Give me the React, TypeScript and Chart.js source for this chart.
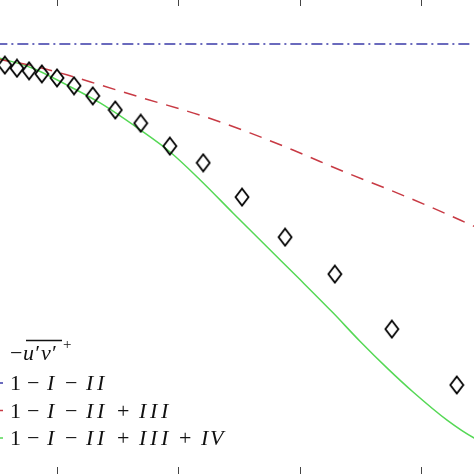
import React, { useEffect, useRef } from "react";
import { Chart, registerables } from "chart.js";

Chart.register(...registerables);

// x positions (arbitrary axis units; ticks at 0.2, 0.4, 0.6, 0.8)
const xTicks = [0.2, 0.4, 0.6, 0.8];
const xMin = 0.106;
const xMax = 0.8874;
const yMin = 0.0227;
const yMax = 1.1;

// -u'v'+ (diamonds)
const uvX = [0.114, 0.134, 0.154, 0.175, 0.2, 0.228, 0.259, 0.296, 0.338, 0.386, 0.441, 0.505, 0.576, 0.658, 0.752, 0.859];
const uvY = [0.952, 0.945, 0.939, 0.932, 0.923, 0.905, 0.882, 0.85, 0.82, 0.768, 0.73, 0.652, 0.561, 0.477, 0.352, 0.225];

// 1 - I - II (blue dash-dot)
const blueX = [0.1, 0.3, 0.5, 0.7, 0.881];
const blueY = [1.0, 1.0, 1.0, 1.0, 1.0];

// 1 - I - II + III (red dashed)
const redX = [0.1, 0.155, 0.216, 0.271, 0.342, 0.441, 0.518, 0.589, 0.678, 0.749, 0.815, 0.887, 0.9];
const redY = [0.966, 0.952, 0.93, 0.907, 0.877, 0.836, 0.798, 0.759, 0.707, 0.668, 0.63, 0.586, 0.578];

// 1 - I - II + III + IV (green solid)
const greenX = [0.1, 0.16, 0.216, 0.271, 0.337, 0.386, 0.436, 0.49, 0.546, 0.601, 0.655, 0.699, 0.746, 0.787, 0.843, 0.887, 0.9];
const greenY = [0.97, 0.945, 0.907, 0.866, 0.805, 0.755, 0.691, 0.616, 0.539, 0.464, 0.389, 0.325, 0.261, 0.209, 0.145, 0.105, 0.098];

const zip = (xs: number[], ys: number[]) => xs.map((x, i) => ({ x, y: ys[i] }));

function makeDiamond(): HTMLCanvasElement {
  const c = document.createElement("canvas");
  c.width = 16;
  c.height = 20;
  const g = c.getContext("2d")!;
  g.strokeStyle = "#000";
  g.lineWidth = 1.8;
  g.lineJoin = "miter";
  g.beginPath();
  g.moveTo(8, 1.5);
  g.lineTo(14.5, 10);
  g.lineTo(8, 18.5);
  g.lineTo(1.5, 10);
  g.closePath();
  g.stroke();
  return c;
}

const SERIF = '"Liberation Serif", "DejaVu Serif", serif';

const frameTicks = {
  id: "frameTicks",
  afterDraw(chart: any) {
    const ctx = chart.ctx;
    const xs = chart.scales.x;
    ctx.save();
    ctx.strokeStyle = "#444";
    ctx.lineWidth = 1;
    for (const v of xTicks) {
      const px = Math.round(xs.getPixelForValue(v)) + 0.5;
      ctx.beginPath();
      ctx.moveTo(px, 0);
      ctx.lineTo(px, 6);
      ctx.moveTo(px, 467);
      ctx.lineTo(px, 474);
      ctx.stroke();
    }
    ctx.restore();
  },
};

// [text, italic, x]
type Piece = [string, boolean, number];

const row1: Piece[] = [["1", false, 10], ["\u2212", false, 27], ["I", true, 47], ["\u2212", false, 65], ["I", true, 86], ["I", true, 97]];
const row2: Piece[] = [...row1, ["+", false, 117], ["I", true, 139], ["I", true, 150], ["I", true, 161]];
const row3: Piece[] = [...row2, ["+", false, 179], ["I", true, 201], ["V", true, 210]];

const legendRows: { color: string; pieces: Piece[] }[] = [
  { color: "#3a3aa8", pieces: row1 },
  { color: "#c83a44", pieces: row2 },
  { color: "#55d855", pieces: row3 },
];

function drawPieces(ctx: CanvasRenderingContext2D, pieces: Piece[], y: number, size: number) {
  for (const [t, it, x] of pieces) {
    ctx.font = `${it ? "italic " : ""}${size}px ${SERIF}`;
    ctx.fillText(t, x, y);
  }
}

const legendPlugin = {
  id: "texLegend",
  afterDraw(chart: any) {
    const ctx: CanvasRenderingContext2D = chart.ctx;
    ctx.save();
    ctx.fillStyle = "#111";
    ctx.textBaseline = "alphabetic";
    const size = 22;
    // row 0: -u'v'^+
    const base0 = 360;
    drawPieces(ctx, [["\u2212", false, 10], ["u\u2032", true, 23], ["v\u2032", true, 41]], base0, size);
    ctx.strokeStyle = "#111";
    ctx.lineWidth = 1.3;
    ctx.beginPath();
    ctx.moveTo(26, 340.5);
    ctx.lineTo(62, 340.5);
    ctx.stroke();
    drawPieces(ctx, [["+", false, 63]], 349, 15);
    const bases = [390, 417.5, 445];
    legendRows.forEach((r, i) => {
      ctx.strokeStyle = r.color;
      ctx.lineWidth = 1.5;
      ctx.beginPath();
      ctx.moveTo(0, bases[i] - 7);
      ctx.lineTo(3, bases[i] - 7);
      ctx.stroke();
      ctx.fillStyle = "#111";
      drawPieces(ctx, r.pieces, bases[i], size);
    });
    ctx.restore();
  },
};

export default function App() {
  const ref = useRef<HTMLCanvasElement | null>(null);
  useEffect(() => {
    if (!ref.current) return;
    const diamond = makeDiamond();
    const chart = new Chart(ref.current, {
      type: "line",
      data: {
        datasets: [
          {
            label: "uv",
            data: zip(uvX, uvY),
            showLine: false,
            pointStyle: diamond as any,
            pointRadius: 8,
            borderColor: "#000",
            backgroundColor: "transparent",
          },
          {
            label: "blue",
            data: zip(blueX, blueY),
            borderColor: "#3a3aa8",
            borderWidth: 1.6,
            borderDash: [11, 4, 2, 4],
            pointRadius: 0,
            fill: false,
          },
          {
            label: "red",
            data: zip(redX, redY),
            borderColor: "#c83a44",
            borderWidth: 1.5,
            borderDash: [13, 9],
            pointRadius: 0,
            cubicInterpolationMode: "monotone",
            fill: false,
          },
          {
            label: "green",
            data: zip(greenX, greenY),
            borderColor: "#55d855",
            borderWidth: 1.5,
            pointRadius: 0,
            cubicInterpolationMode: "monotone",
            fill: false,
          },
        ],
      },
      options: {
        responsive: false,
        animation: false,
        layout: { padding: 0, autoPadding: false },
        plugins: { legend: { display: false }, tooltip: { enabled: false } },
        scales: {
          x: { type: "linear", display: false, min: xMin, max: xMax },
          y: { type: "linear", display: false, min: yMin, max: yMax },
        },
      },
      plugins: [frameTicks, legendPlugin],
    });
    return () => chart.destroy();
  }, []);
  return (
    <div style={{ position: "fixed", left: 0, top: 0, width: 474, height: 474, background: "#fff" }}>
      <canvas ref={ref} width={474} height={474} style={{ display: "block" }} />
    </div>
  );
}
